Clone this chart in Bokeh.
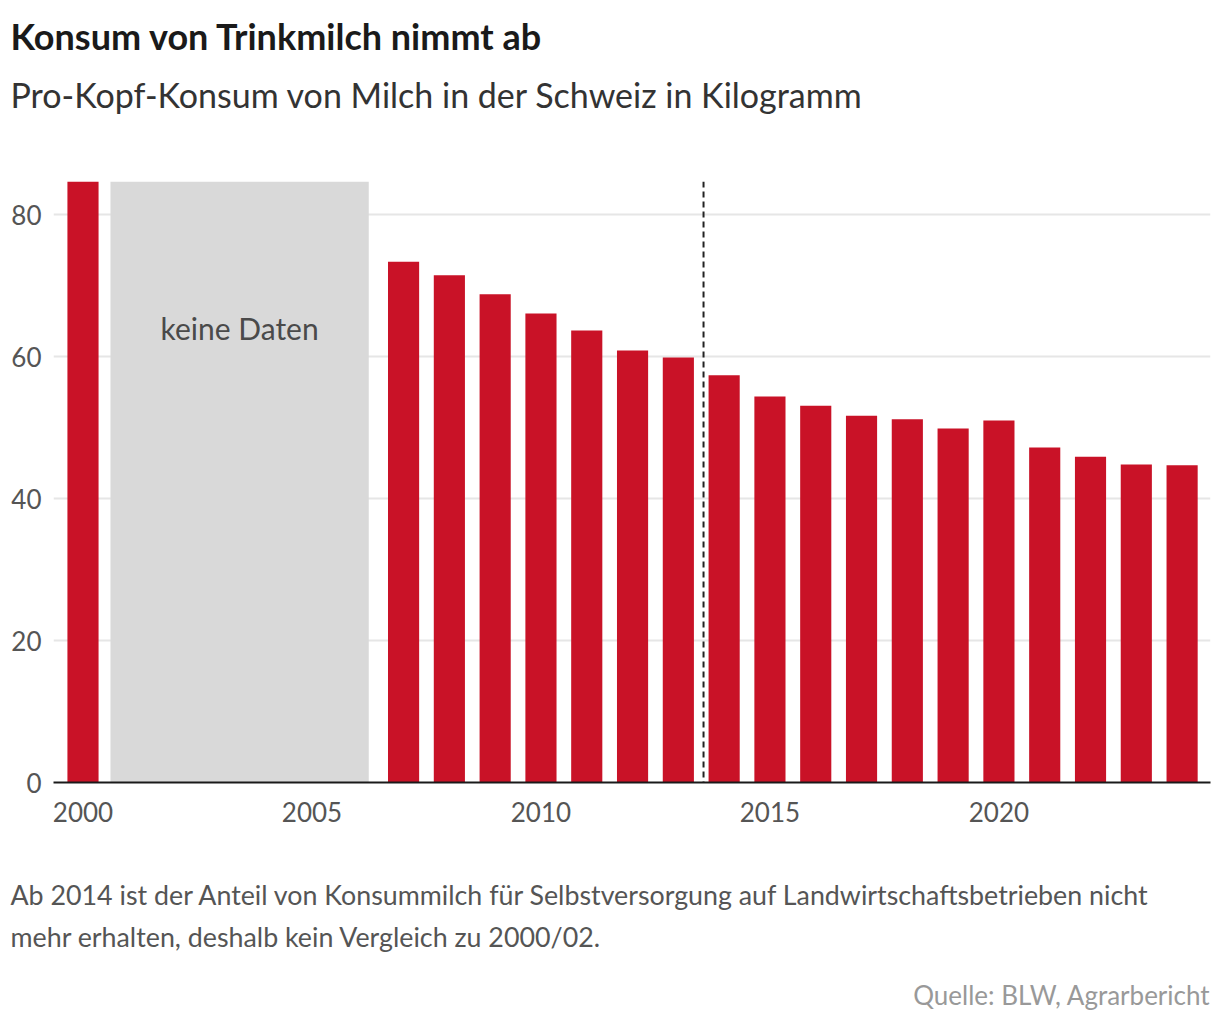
from bokeh.plotting import figure
from bokeh.models import Range1d, Span, Title, Label, FixedTicker
from bokeh.embed import file_html
from bokeh.resources import INLINE

# ---- data ----
years = [2000, 2007, 2008, 2009, 2010, 2011, 2012, 2013, 2014, 2015,
         2016, 2017, 2018, 2019, 2020, 2021, 2022, 2023, 2024]
consumption_kg = [84.7, 73.4, 71.5, 68.8, 66.1, 63.7, 60.9, 59.9, 57.4, 54.4,
                  53.1, 51.7, 51.2, 49.9, 51.0, 47.2, 45.9, 44.8, 44.7]
x_tick_years = [2000, 2005, 2010, 2015, 2020]
y_tick_values = [0, 20, 40, 60, 80]
no_data_label = "keine Daten"

FONT = "Lato"
RED = "#c91227"

X_START, X_END = 1999.356, 2024.62
Y_END = 84.7
GAP_LEFT, GAP_RIGHT = 2000.6, 2006.24
BREAK_AT = 2013.55

p = figure(width=1220, height=1026, output_backend="svg", toolbar_location=None,
           x_range=Range1d(X_START, X_END), y_range=Range1d(0, Y_END),
           min_border_left=53, min_border_right=10, min_border_top=0,
           min_border_bottom=0, outline_line_color=None,
           background_fill_color="white", border_fill_color="white")

# gap without data
p.quad(left=[GAP_LEFT], right=[GAP_RIGHT], bottom=[0], top=[Y_END],
       fill_color="#d9d9d9", line_color=None)
p.add_layout(Label(x=(GAP_LEFT + GAP_RIGHT) / 2, y=64.0, text=no_data_label,
                   text_align="center", text_baseline="alphabetic",
                   text_font=FONT, text_font_size="30px", text_color="#4a4a4a"))

# bars
p.vbar(x=years, top=consumption_kg, width=0.68, fill_color=RED, line_color=None)

# break line
p.add_layout(Span(location=BREAK_AT, dimension="height", line_color="#222222",
                  line_width=2, line_dash="6 4"))

# axes
p.xaxis.ticker = FixedTicker(ticks=x_tick_years)
p.yaxis.ticker = FixedTicker(ticks=y_tick_values)
for ax in (p.xaxis[0], p.yaxis[0]):
    ax.major_tick_line_color = None
    ax.minor_tick_line_color = None
    ax.major_tick_out = 0
    ax.major_tick_in = 0
    ax.minor_tick_out = 0
    ax.minor_tick_in = 0
    ax.major_label_text_font = FONT
    ax.major_label_text_font_size = "26px"
    ax.major_label_text_color = "#555555"
p.yaxis.axis_line_color = None
p.yaxis.major_label_standoff = 12
p.xaxis.axis_line_color = "#1a1a1a"
p.xaxis.axis_line_width = 2
p.xaxis.major_label_standoff = 19

p.xgrid.grid_line_color = None
p.ygrid.grid_line_color = "#e6e6e6"
p.ygrid.grid_line_width = 2

p.title.text = ""


def make_title(text, size, standoff, color="#555555", style="normal", align="left", offset=-43):
    return Title(text=text, text_font=FONT, text_font_style=style,
                 text_font_size=size, text_color=color, align=align,
                 offset=offset, standoff=standoff)


# above: first added is closest to the plot
p.add_layout(make_title(" ", "2px", 59), "above")
p.add_layout(make_title("Pro-Kopf-Konsum von Milch in der Schweiz in Kilogramm",
                        "34px", 7, color="#333333"), "above")
p.add_layout(make_title("Konsum von Trinkmilch nimmt ab", "36px", 22,
                        color="#1a1a1a", style="bold"), "above")

# below: first added is closest to the plot (after the axis)
p.add_layout(make_title(" ", "2px", 48), "below")
p.add_layout(make_title("Ab 2014 ist der Anteil von Konsummilch für Selbstversorgung auf Landwirtschaftsbetrieben nicht",
                        "26.8px", 0), "below")
p.add_layout(make_title("mehr erhalten, deshalb kein Vergleich zu 2000/02.",
                        "26.8px", 17), "below")
p.add_layout(make_title("Quelle: BLW, Agrarbericht", "26px", 31,
                        color="#999999", align="right", offset=0), "below")

open("out.html", "w").write(file_html(p, INLINE))
